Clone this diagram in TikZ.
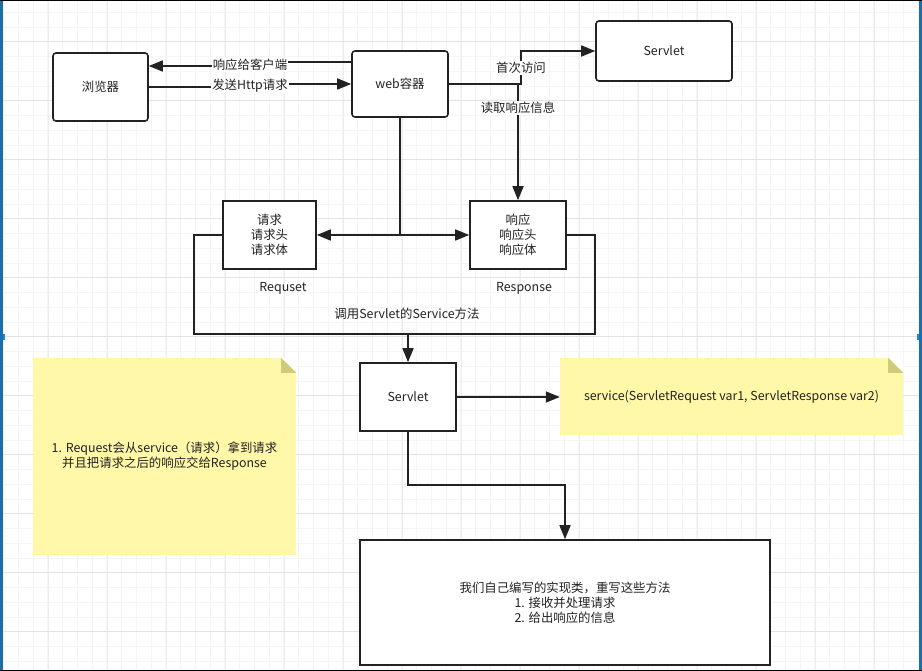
\documentclass[tikz,border=0pt]{standalone}
\usepackage{fontspec}
\setmainfont{Noto Sans CJK SC}
\usetikzlibrary{arrows.meta}
\definecolor{inkgray}{HTML}{222222}
\definecolor{notefill}{HTML}{FFF8A8}
\definecolor{notefold}{HTML}{CFCB78}
\definecolor{edgeblue}{HTML}{1A6FA8}
\definecolor{tickblue}{HTML}{0A8CF0}
\tikzset{
    box/.style={draw=inkgray, line width=1.6pt, fill=white, text=inkgray, align=center, minimum width=#1, inner sep=0pt},
    box/.default=96pt,
    roundbox/.style={box=#1, rounded corners=3pt},
    roundbox/.default=96pt,
    note/.style={fill=notefill, text=inkgray, align=center, inner sep=0pt},
    word/.style={text=inkgray, align=center, inner sep=0pt},
    edgelabel/.style={fill=white, text=inkgray, inner sep=1pt},
    wire/.style={draw=inkgray, line width=1.6pt},
    flow/.style={wire, -{Triangle[length=14pt, width=11pt]}},
}
\begin{document}
\begin{tikzpicture}[x=1pt, y=-1pt, font=\fontsize{12.4}{15}\selectfont]
    \useasboundingbox (0,0) rectangle (922,671);
    % Draw grid
    \fill[white] (0,0) rectangle (922,671);
    \foreach \i in {0,...,62} {
        \draw[black!4, line width=0.8pt] ({3.5+14.75*\i},0) -- ({3.5+14.75*\i},671);
    }
    \foreach \i in {0,...,45} {
        \draw[black!4, line width=0.8pt] (0,{12.2+14.75*\i}) -- (922,{12.2+14.75*\i});
    }
    \foreach \i in {0,...,15} {
        \draw[black!7, line width=1pt] ({48+59*\i},0) -- ({48+59*\i},671);
    }
    \foreach \i in {0,...,10} {
        \draw[black!11, line width=1pt] (0,{41.7+59*\i}) -- (922,{41.7+59*\i});
    }
    % Draw frame
    \fill[edgeblue] (0,0) rectangle (3,671);
    \fill[edgeblue] (919,0) rectangle (922,671);
    \fill[tickblue] (3,334) rectangle (5,340);
    \fill[tickblue] (917,334) rectangle (919,340);
    \fill[black] (0,0) rectangle (922,1);
    \fill[black] (0,670) rectangle (922,671);
    % Draw notes
    \node[note, minimum width=263pt, minimum height=197pt] (noteleft) at (164.5,456.5) {1. Request会从service（请求）拿到请求\\并且把请求之后的响应交给Response};
    \node[note, minimum width=343pt, minimum height=77pt] (noteright) at (731.5,396.5) {service(ServletRequest var1, ServletResponse var2)};
    \fill[white] (noteleft.north east) -- ++(-15,0) -- ++(15,15) -- cycle;
    \fill[notefold] (noteleft.north east) ++(-15,0) -- ++(15,15) -- ++(-15,0) -- cycle;
    \fill[white] (noteright.north east) -- ++(-15,0) -- ++(15,15) -- cycle;
    \fill[notefold] (noteright.north east) ++(-15,0) -- ++(15,15) -- ++(-15,0) -- cycle;
    % Draw boxes
    \node[roundbox=95pt, minimum height=68pt] (browser) at (100.5,87) {浏览器};
    \node[roundbox, minimum height=66pt] (web) at (400,84) {web容器};
    \node[roundbox=136pt, minimum height=60pt] (servlettop) at (664,51) {Servlet};
    \node[box=93pt, minimum height=68pt] (request) at (269.5,235) {请求\\请求头\\请求体};
    \node[box, minimum height=68pt] (response) at (518,235) {响应\\响应头\\响应体};
    \node[box, minimum height=68pt] (servlet) at (408,397) {Servlet};
    \node[box=410pt, minimum height=125pt] (impl) at (565,602.5) {我们自己编写的实现类，重写这些方法\\1. 接收并处理请求\\2. 给出响应的信息};
    % Draw free labels
    \node[word] (requestname) at (283,288) {Requset};
    \node[word] (responsename) at (524,288) {Response};
    \node[word] (callname) at (407,314) {调用Servlet的Service方法};
    % Draw browser and container wires
    \draw[flow] ([yshift=22pt]web.west) -- ++(-102,0) -- ++(0,4) -- (browser.east |- 0,66);
    \draw[flow] (browser.east) -- ++(102,0) -- ++(0,-3) -- (web.west);
    \node[edgelabel] (backlabel) at (250,65) {响应给客户端};
    \node[edgelabel] (sendlabel) at (250,86) {发送Http请求};
    % Draw first visit and read wires
    \draw[flow] (web.east) -- (521,84) -- (521,51) -- (servlettop.west);
    \draw[flow] (web.east) -- (518,84) -- (response.north);
    \node[edgelabel] (visitlabel) at (521,68) {首次访问};
    \node[edgelabel] (readlabel) at (518,108) {读取响应信息};
    % Draw split to request and response
    \coordinate (split) at (web.south |- request.east);
    \draw[wire] (web.south) -- (split);
    \draw[flow] (split) -- (request.east);
    \draw[flow] (split) -- (response.west);
    % Draw call wires
    \coordinate (join) at (servlet.north |- 0,334);
    \draw[wire] (request.west) -- (194,235) -- (194,334) -- (join);
    \draw[wire] (response.east) -- (595,235) -- (595,334) -- (join);
    \draw[flow] (join) -- (servlet.north);
    % Draw servlet wires
    \draw[flow] (servlet.east) -- (noteright.west |- servlet.east);
    \draw[flow] (servlet.south) -- (408,485) -- (565,485) -- (impl.north);
\end{tikzpicture}
\end{document}
